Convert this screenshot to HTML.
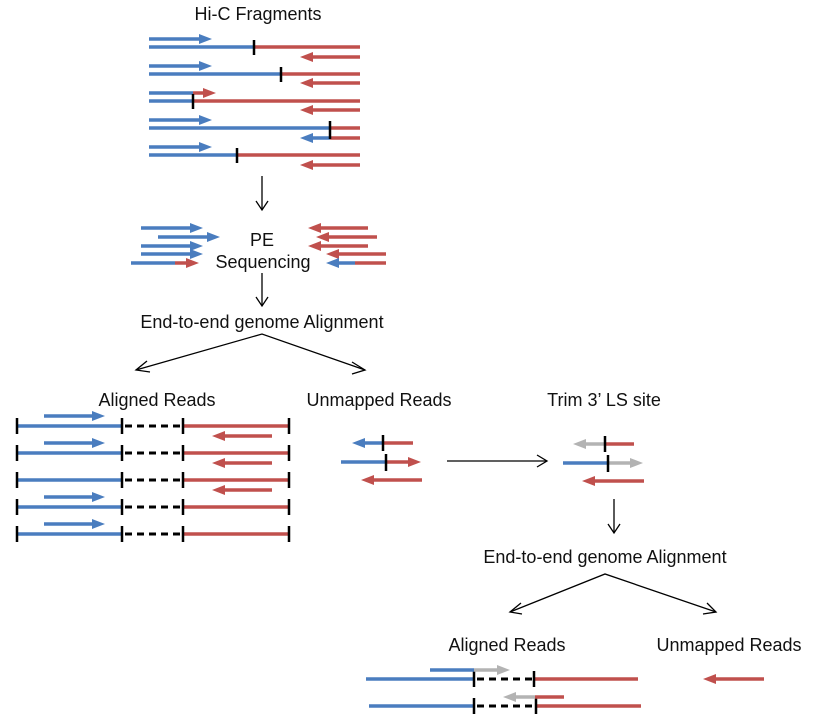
<!DOCTYPE html>
<html><head><meta charset="utf-8"><style>
html,body{margin:0;padding:0;background:#fff}
svg{display:block}
text{font-family:"Liberation Sans",sans-serif;font-size:18px;fill:#111;text-anchor:middle}
.b{stroke:#4a7dbf;stroke-width:3.5;fill:none}
.r{stroke:#c0504d;stroke-width:3.5;fill:none}
.g{stroke:#b3b3b3;stroke-width:3.5;fill:none}
.k{stroke:#000;stroke-width:2.5}
.d{stroke:#000;stroke-width:3;stroke-dasharray:7,5}
.l{stroke:#000;stroke-width:1.3;fill:none}
.pb{fill:#4a7dbf}.pr{fill:#c0504d}.pg{fill:#b3b3b3}
</style></head><body>
<svg width="834" height="724" viewBox="0 0 834 724">
<text x="258" y="20">Hi-C Fragments</text>
<!-- group1 -->
<line class="b" x1="149" y1="39" x2="201" y2="39"/><polygon class="pb" points="199,34 212,39 199,44"/>
<line class="b" x1="149" y1="47" x2="254" y2="47"/><line class="r" x1="254" y1="47" x2="360" y2="47"/><line class="k" x1="254" y1="40" x2="254" y2="55"/>
<line class="r" x1="310" y1="57" x2="360" y2="57"/><polygon class="pr" points="313,52 300,57 313,62"/>
<!-- group2 -->
<line class="b" x1="149" y1="66" x2="201" y2="66"/><polygon class="pb" points="199,61 212,66 199,71"/>
<line class="b" x1="149" y1="74" x2="281" y2="74"/><line class="r" x1="281" y1="74" x2="360" y2="74"/><line class="k" x1="281" y1="67" x2="281" y2="82"/>
<line class="r" x1="310" y1="83" x2="360" y2="83"/><polygon class="pr" points="313,78 300,83 313,88"/>
<!-- group3 -->
<line class="b" x1="149" y1="93" x2="193" y2="93"/><line class="r" x1="193" y1="93" x2="205" y2="93"/><polygon class="pr" points="203,88 216,93 203,98"/>
<line class="b" x1="149" y1="101" x2="193" y2="101"/><line class="r" x1="193" y1="101" x2="360" y2="101"/><line class="k" x1="193" y1="94" x2="193" y2="109"/>
<line class="r" x1="310" y1="110" x2="360" y2="110"/><polygon class="pr" points="313,105 300,110 313,115"/>
<!-- group4 -->
<line class="b" x1="149" y1="120" x2="201" y2="120"/><polygon class="pb" points="199,115 212,120 199,125"/>
<line class="b" x1="149" y1="128" x2="330" y2="128"/><line class="r" x1="330" y1="128" x2="360" y2="128"/>
<line class="b" x1="310" y1="138" x2="330" y2="138"/><line class="r" x1="330" y1="138" x2="360" y2="138"/><polygon class="pb" points="313,133 300,138 313,143"/>
<line class="k" x1="330" y1="121" x2="330" y2="139"/>
<!-- group5 -->
<line class="b" x1="149" y1="147" x2="201" y2="147"/><polygon class="pb" points="199,142 212,147 199,152"/>
<line class="b" x1="149" y1="155" x2="237" y2="155"/><line class="r" x1="237" y1="155" x2="360" y2="155"/><line class="k" x1="237" y1="148" x2="237" y2="163"/>
<line class="r" x1="310" y1="165" x2="360" y2="165"/><polygon class="pr" points="313,160 300,165 313,170"/>
<!-- arrow down -->
<line class="l" x1="262" y1="176" x2="262" y2="210"/><polyline class="l" points="256,201 262,210 268,201"/>
<!-- PE -->
<line class="b" x1="141" y1="228" x2="192" y2="228"/><polygon class="pb" points="190,223 203,228 190,233"/>
<line class="b" x1="158" y1="237" x2="209" y2="237"/><polygon class="pb" points="207,232 220,237 207,242"/>
<line class="b" x1="141" y1="246" x2="192" y2="246"/><polygon class="pb" points="190,241 203,246 190,251"/>
<line class="b" x1="141" y1="254" x2="192" y2="254"/><polygon class="pb" points="190,249 203,254 190,259"/>
<line class="b" x1="131" y1="263" x2="175" y2="263"/><line class="r" x1="175" y1="263" x2="188" y2="263"/><polygon class="pr" points="186,258 199,263 186,268"/>
<line class="r" x1="318" y1="228" x2="368" y2="228"/><polygon class="pr" points="321,223 308,228 321,233"/>
<line class="r" x1="326" y1="237" x2="377" y2="237"/><polygon class="pr" points="329,232 316,237 329,242"/>
<line class="r" x1="318" y1="246" x2="368" y2="246"/><polygon class="pr" points="321,241 308,246 321,251"/>
<line class="r" x1="336" y1="254" x2="386" y2="254"/><polygon class="pr" points="339,249 326,254 339,259"/>
<line class="b" x1="336" y1="263" x2="355" y2="263"/><line class="r" x1="355" y1="263" x2="386" y2="263"/><polygon class="pb" points="339,258 326,263 339,268"/>
<text x="262" y="246">PE</text>
<text x="263" y="268">Sequencing</text>
<line class="l" x1="262" y1="273" x2="262" y2="306"/><polyline class="l" points="256,297 262,306 268,297"/>
<text x="262" y="328">End-to-end genome Alignment</text>
<polyline class="l" points="136,370 262,334 365,370"/>
<polyline class="l" points="147,361 136,370 150,372"/>
<polyline class="l" points="352,362 365,370 352,374"/>
<text x="157" y="406">Aligned Reads</text>
<text x="379" y="406">Unmapped Reads</text>
<text x="604" y="406">Trim 3’ LS site</text>
<!-- aligned rows -->
<g>
<line class="b" x1="17" y1="426" x2="122" y2="426"/><line class="d" x1="125" y1="426" x2="183" y2="426"/><line class="r" x1="183" y1="426" x2="289" y2="426"/>
<line class="b" x1="17" y1="453" x2="122" y2="453"/><line class="d" x1="125" y1="453" x2="183" y2="453"/><line class="r" x1="183" y1="453" x2="289" y2="453"/>
<line class="b" x1="17" y1="480" x2="122" y2="480"/><line class="d" x1="125" y1="480" x2="183" y2="480"/><line class="r" x1="183" y1="480" x2="289" y2="480"/>
<line class="b" x1="17" y1="507" x2="122" y2="507"/><line class="d" x1="125" y1="507" x2="183" y2="507"/><line class="r" x1="183" y1="507" x2="289" y2="507"/>
<line class="b" x1="17" y1="534" x2="122" y2="534"/><line class="d" x1="125" y1="534" x2="183" y2="534"/><line class="r" x1="183" y1="534" x2="289" y2="534"/>
<path class="k" d="M17,418v16M122,418v16M183,418v16M289,418v16 M17,445v16M122,445v16M183,445v16M289,445v16 M17,472v16M122,472v16M183,472v16M289,472v16 M17,499v16M122,499v16M183,499v16M289,499v16 M17,526v16M122,526v16M183,526v16M289,526v16"/>
<line class="b" x1="44" y1="416" x2="94" y2="416"/><polygon class="pb" points="92,411 105,416 92,421"/>
<line class="b" x1="44" y1="443" x2="94" y2="443"/><polygon class="pb" points="92,438 105,443 92,448"/>
<line class="b" x1="44" y1="497" x2="94" y2="497"/><polygon class="pb" points="92,492 105,497 92,502"/>
<line class="b" x1="44" y1="524" x2="94" y2="524"/><polygon class="pb" points="92,519 105,524 92,529"/>
<line class="r" x1="222" y1="436" x2="272" y2="436"/><polygon class="pr" points="225,431 212,436 225,441"/>
<line class="r" x1="222" y1="463" x2="272" y2="463"/><polygon class="pr" points="225,458 212,463 225,468"/>
<line class="r" x1="222" y1="490" x2="272" y2="490"/><polygon class="pr" points="225,485 212,490 225,495"/>
</g>
<!-- unmapped -->
<line class="b" x1="362" y1="443" x2="383" y2="443"/><line class="r" x1="383" y1="443" x2="413" y2="443"/><polygon class="pb" points="365,438 352,443 365,448"/><line class="k" x1="383" y1="435" x2="383" y2="451"/>
<line class="b" x1="341" y1="462" x2="386" y2="462"/><line class="r" x1="386" y1="462" x2="410" y2="462"/><polygon class="pr" points="408,457 421,462 408,467"/><line class="k" x1="386" y1="454" x2="386" y2="471"/>
<line class="r" x1="371" y1="480" x2="422" y2="480"/><polygon class="pr" points="374,475 361,480 374,485"/>
<line class="l" x1="447" y1="461" x2="547" y2="461"/><polyline class="l" points="537,455 547,461 537,467"/>
<!-- trim -->
<line class="g" x1="583" y1="444" x2="605" y2="444"/><line class="r" x1="605" y1="444" x2="634" y2="444"/><polygon class="pg" points="586,439 573,444 586,449"/><line class="k" x1="605" y1="436" x2="605" y2="452"/>
<line class="b" x1="563" y1="463" x2="608" y2="463"/><line class="g" x1="608" y1="463" x2="632" y2="463"/><polygon class="pg" points="630,458 643,463 630,468"/><line class="k" x1="608" y1="455" x2="608" y2="472"/>
<line class="r" x1="592" y1="481" x2="644" y2="481"/><polygon class="pr" points="595,476 582,481 595,486"/>
<line class="l" x1="614" y1="499" x2="614" y2="533"/><polyline class="l" points="608,524 614,533 620,524"/>
<text x="605" y="563">End-to-end genome Alignment</text>
<polyline class="l" points="510,612 605,574 716,612"/>
<polyline class="l" points="521,603 510,612 522,614"/>
<polyline class="l" points="707,603 716,612 703,614"/>
<text x="507" y="651">Aligned Reads</text>
<text x="729" y="651">Unmapped Reads</text>
<!-- bottom aligned -->
<line class="b" x1="366" y1="679" x2="474" y2="679"/><line class="d" x1="477" y1="679" x2="534" y2="679"/><line class="r" x1="534" y1="679" x2="638" y2="679"/>
<line class="b" x1="369" y1="706" x2="474" y2="706"/><line class="d" x1="477" y1="706" x2="536" y2="706"/><line class="r" x1="536" y1="706" x2="641" y2="706"/>
<path class="k" d="M474,671v16M534,671v16M474,698v16M536,698v16"/>
<line class="b" x1="430" y1="670" x2="474" y2="670"/><line class="g" x1="474" y1="670" x2="499" y2="670"/><polygon class="pg" points="497,665 510,670 497,675"/>
<line class="g" x1="514" y1="697" x2="535" y2="697"/><line class="r" x1="535" y1="697" x2="564" y2="697"/><polygon class="pg" points="516,692 503,697 516,702"/>
<line class="r" x1="713" y1="679" x2="764" y2="679"/><polygon class="pr" points="716,674 703,679 716,684"/>
</svg>
</body></html>
